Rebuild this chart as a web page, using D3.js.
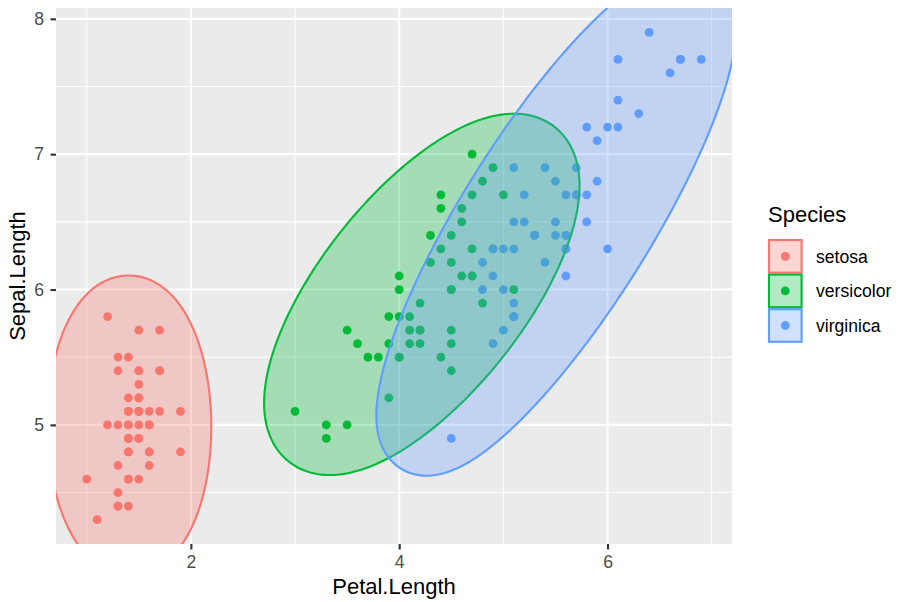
<!DOCTYPE html>
<html>
<head>
<meta charset="utf-8">
<script src="https://cdn.jsdelivr.net/npm/d3@7"></script>
<style>
  body { margin: 0; background: #fff; }
  svg { display: block; font-family: "Liberation Sans", Arial, sans-serif; }
</style>
</head>
<body>
<svg id="chart" width="906" height="602"></svg>
<script>
// ---- data (iris) ---------------------------------------------------------
var species = ["setosa", "versicolor", "virginica"];
var speciesColors = ["#F8766D", "#00BA38", "#619CFF"];

var setosaPetal = [1.4,1.4,1.3,1.5,1.4,1.7,1.4,1.5,1.4,1.5,1.5,1.6,1.4,1.1,1.2,1.5,1.3,1.4,1.7,1.5,
                   1.7,1.5,1.0,1.7,1.9,1.6,1.6,1.5,1.4,1.6,1.6,1.5,1.5,1.4,1.5,1.2,1.3,1.4,1.3,1.5,
                   1.3,1.3,1.3,1.6,1.9,1.4,1.6,1.4,1.5,1.4];
var setosaSepal = [5.1,4.9,4.7,4.6,5.0,5.4,4.6,5.0,4.4,4.9,5.4,4.8,4.8,4.3,5.8,5.7,5.4,5.1,5.7,5.1,
                   5.4,5.1,4.6,5.1,4.8,5.0,5.0,5.2,5.2,4.7,4.8,5.4,5.2,5.5,4.9,5.0,5.5,4.9,4.4,5.1,
                   5.0,4.5,4.4,5.0,5.1,4.8,5.1,4.6,5.3,5.0];
var versicolorPetal = [4.7,4.5,4.9,4.0,4.6,4.5,4.7,3.3,4.6,3.9,3.5,4.2,4.0,4.7,3.6,4.4,4.5,4.1,4.5,3.9,
                       4.8,4.0,4.9,4.7,4.3,4.4,4.8,5.0,4.5,3.5,3.8,3.7,3.9,5.1,4.5,4.5,4.7,4.4,4.1,4.0,
                       4.4,4.6,4.0,3.3,4.2,4.2,4.2,4.3,3.0,4.1];
var versicolorSepal = [7.0,6.4,6.9,5.5,6.5,5.7,6.3,4.9,6.6,5.2,5.0,5.9,6.0,6.1,5.6,6.7,5.6,5.8,6.2,5.6,
                       5.9,6.1,6.3,6.1,6.4,6.6,6.8,6.7,6.0,5.7,5.5,5.5,5.8,6.0,5.4,6.0,6.7,6.3,5.6,5.5,
                       5.5,6.1,5.8,5.0,5.6,5.7,5.7,6.2,5.1,5.7];
var virginicaPetal = [6.0,5.1,5.9,5.6,5.8,6.6,4.5,6.3,5.8,6.1,5.1,5.3,5.5,5.0,5.1,5.3,5.5,6.7,6.9,5.0,
                      5.7,4.9,6.7,4.9,5.7,6.0,4.8,4.9,5.6,5.8,6.1,6.4,5.6,5.1,5.6,6.1,5.6,5.5,4.8,5.4,
                      5.6,5.1,5.1,5.9,5.7,5.2,5.0,5.2,5.4,5.1];
var virginicaSepal = [6.3,5.8,7.1,6.3,6.5,7.6,4.9,7.3,6.7,7.2,6.5,6.4,6.8,5.7,5.8,6.4,6.5,7.7,7.7,6.0,
                      6.9,5.6,7.7,6.3,6.7,7.2,6.2,6.1,6.4,7.2,7.4,7.9,6.4,6.3,6.1,7.7,6.3,6.4,6.0,6.9,
                      6.7,6.9,5.8,6.8,6.7,6.7,6.3,6.5,6.2,5.9];

var xTicks = [2, 4, 6];
var xMinor = [1, 3, 5, 7];
var yTicks = [5, 6, 7, 8];
var yMinor = [4.5, 5.5, 6.5, 7.5];

var petalBySpecies = [setosaPetal, versicolorPetal, virginicaPetal];
var sepalBySpecies = [setosaSepal, versicolorSepal, virginicaSepal];

// ---- layout --------------------------------------------------------------
var panel = { left: 56, right: 732, top: 8, bottom: 544 };
var expandPx = 30.5;   // mark expansion around the enclosing ellipse
var svg = d3.select("#chart");

var allPetal = [].concat(setosaPetal, versicolorPetal, virginicaPetal);
var allSepal = [].concat(setosaSepal, versicolorSepal, virginicaSepal);

function expanded(ext) {
    var pad = (ext[1] - ext[0]) * 0.05;
    return [ext[0] - pad, ext[1] + pad];
}

var x = d3.scaleLinear().domain(expanded(d3.extent(allPetal))).range([panel.left, panel.right]);
var y = d3.scaleLinear().domain(expanded(d3.extent(allSepal))).range([panel.bottom, panel.top]);

var rows = [];
species.forEach(function(s, k) {
    petalBySpecies[k].forEach(function(p, i) {
        rows.push({ species: s, k: k, petal: p, sepal: sepalBySpecies[k][i] });
    });
});

// ---- panel ---------------------------------------------------------------
svg.append("defs").append("clipPath").attr("id", "panelClip")
    .append("rect")
    .attr("x", panel.left).attr("y", panel.top)
    .attr("width", panel.right - panel.left).attr("height", panel.bottom - panel.top);

svg.append("rect")
    .attr("x", panel.left).attr("y", panel.top)
    .attr("width", panel.right - panel.left).attr("height", panel.bottom - panel.top)
    .attr("fill", "#EBEBEB");

var grid = svg.append("g").attr("clip-path", "url(#panelClip)");
grid.selectAll(".xminor").data(xMinor).enter().append("line")
    .attr("x1", d => x(d)).attr("x2", d => x(d))
    .attr("y1", panel.top).attr("y2", panel.bottom)
    .attr("stroke", "#fff").attr("stroke-width", 1.07);
grid.selectAll(".yminor").data(yMinor).enter().append("line")
    .attr("y1", d => y(d)).attr("y2", d => y(d))
    .attr("x1", panel.left).attr("x2", panel.right)
    .attr("stroke", "#fff").attr("stroke-width", 1.07);
grid.selectAll(".xmajor").data(xTicks).enter().append("line")
    .attr("x1", d => x(d)).attr("x2", d => x(d))
    .attr("y1", panel.top).attr("y2", panel.bottom)
    .attr("stroke", "#fff").attr("stroke-width", 2.13);
grid.selectAll(".ymajor").data(yTicks).enter().append("line")
    .attr("y1", d => y(d)).attr("y2", d => y(d))
    .attr("x1", panel.left).attr("x2", panel.right)
    .attr("stroke", "#fff").attr("stroke-width", 2.13);

// ---- points ----------------------------------------------------------------
var plot = svg.append("g").attr("clip-path", "url(#panelClip)");
plot.selectAll("circle.pt").data(rows).enter().append("circle")
    .attr("class", "pt")
    .attr("cx", d => x(d.petal))
    .attr("cy", d => y(d.sepal))
    .attr("r", 4.4)
    .attr("fill", d => speciesColors[d.k]);

// ---- enclosing ellipses (Khachiyan, in pixel space, then expanded) ---------
function inv3(m) {
    var a = m[0][0], b = m[0][1], c = m[0][2],
        d = m[1][0], e = m[1][1], f = m[1][2],
        g = m[2][0], h = m[2][1], i = m[2][2];
    var A = e * i - f * h, B = -(d * i - f * g), C = d * h - e * g;
    var det = a * A + b * B + c * C;
    return [
        [A / det, -(b * i - c * h) / det, (b * f - c * e) / det],
        [B / det, (a * i - c * g) / det, -(a * f - c * d) / det],
        [C / det, -(a * h - b * g) / det, (a * e - b * d) / det]
    ];
}

function enclosingEllipse(pts, tol) {
    var n = pts.length, dim = 2;
    var mx = d3.mean(pts, p => p[0]), my = d3.mean(pts, p => p[1]);
    var P = pts.map(p => [p[0] - mx, p[1] - my]);
    var u = P.map(() => 1 / n);
    var err = 1, iter = 0;
    while (err > tol && iter < 20000) {
        var X = [[0, 0, 0], [0, 0, 0], [0, 0, 0]];
        P.forEach(function(p, k) {
            var q = [p[0], p[1], 1];
            for (var r = 0; r < 3; r++)
                for (var c = 0; c < 3; c++) X[r][c] += u[k] * q[r] * q[c];
        });
        var Xi = inv3(X);
        var maxM = -Infinity, j = 0;
        P.forEach(function(p, k) {
            var q = [p[0], p[1], 1], m = 0;
            for (var r = 0; r < 3; r++)
                for (var c = 0; c < 3; c++) m += q[r] * Xi[r][c] * q[c];
            if (m > maxM) { maxM = m; j = k; }
        });
        var step = (maxM - dim - 1) / ((dim + 1) * (maxM - 1));
        var nu = u.map(v => v * (1 - step));
        nu[j] += step;
        err = Math.sqrt(d3.sum(nu, (v, k) => (v - u[k]) * (v - u[k])));
        u = nu;
        iter++;
    }
    var cx = d3.sum(P, (p, k) => u[k] * p[0]);
    var cy = d3.sum(P, (p, k) => u[k] * p[1]);
    var sxx = d3.sum(P, (p, k) => u[k] * p[0] * p[0]) - cx * cx;
    var syy = d3.sum(P, (p, k) => u[k] * p[1] * p[1]) - cy * cy;
    var sxy = d3.sum(P, (p, k) => u[k] * p[0] * p[1]) - cx * cy;
    // shape = dim * S ; A = inverse(shape)
    var s11 = dim * sxx, s22 = dim * syy, s12 = dim * sxy;
    var det = s11 * s22 - s12 * s12;
    return {
        cx: cx + mx, cy: cy + my,
        L: [[Math.sqrt(s11), 0], [s12 / Math.sqrt(s11), Math.sqrt(s22 - s12 * s12 / s11)]],
        A: [[s22 / det, -s12 / det], [-s12 / det, s11 / det]]
    };
}

function markPath(el, e, nseg) {
    var out = [];
    for (var i = 0; i < nseg; i++) {
        var t = 2 * Math.PI * i / nseg, ct = Math.cos(t), st = Math.sin(t);
        var dx = el.L[0][0] * ct + el.L[0][1] * st;
        var dy = el.L[1][0] * ct + el.L[1][1] * st;
        var gx = el.A[0][0] * dx + el.A[0][1] * dy;
        var gy = el.A[1][0] * dx + el.A[1][1] * dy;
        var gl = Math.sqrt(gx * gx + gy * gy);
        out.push([el.cx + dx + e * gx / gl, el.cy + dy + e * gy / gl]);
    }
    return out;
}

var ellipseLine = d3.line().curve(d3.curveLinearClosed);

species.forEach(function(s, k) {
    var pts = petalBySpecies[k].map((p, i) => [x(p), y(sepalBySpecies[k][i])]);
    var el = enclosingEllipse(pts, 0.01);
    plot.append("path")
        .attr("d", ellipseLine(markPath(el, expandPx, 240)))
        .attr("fill", speciesColors[k])
        .attr("fill-opacity", 0.3)
        .attr("stroke", speciesColors[k])
        .attr("stroke-width", 2.13);
});

// ---- axes ------------------------------------------------------------------
var xAxis = svg.append("g")
    .attr("transform", "translate(0," + panel.bottom + ")")
    .call(d3.axisBottom(x).tickValues(xTicks).tickFormat(d3.format("d"))
        .tickSize(5.5).tickSizeOuter(0).tickPadding(6.5));
var yAxis = svg.append("g")
    .attr("transform", "translate(" + panel.left + ",0)")
    .call(d3.axisLeft(y).tickValues(yTicks).tickFormat(d3.format("d"))
        .tickSize(5.5).tickSizeOuter(0).tickPadding(6.5));
[xAxis, yAxis].forEach(function(a) {
    a.select(".domain").remove();
    a.selectAll(".tick line").attr("stroke", "#333333").attr("stroke-width", 2.13);
    a.selectAll(".tick text").attr("fill", "#4D4D4D")
        .style("font-size", "17.6px")
        .style("font-family", "'Liberation Sans', Arial, sans-serif");
});

svg.append("text")
    .attr("x", (panel.left + panel.right) / 2).attr("y", 594)
    .attr("text-anchor", "middle")
    .style("font-size", "22px")
    .text("Petal.Length");

svg.append("text")
    .attr("transform", "translate(25," + ((panel.top + panel.bottom) / 2) + ") rotate(-90)")
    .attr("text-anchor", "middle")
    .style("font-size", "22px")
    .text("Sepal.Length");

// ---- legend ----------------------------------------------------------------
var legend = svg.append("g").attr("transform", "translate(768,0)");
legend.append("text")
    .attr("x", 0).attr("y", 222)
    .style("font-size", "22px")
    .text("Species");

var keySize = 34.6, keyTop = 239;
var keys = legend.selectAll("g.key").data(species).enter().append("g")
    .attr("class", "key")
    .attr("transform", (d, i) => "translate(0," + (keyTop + i * keySize) + ")");
keys.append("rect")
    .attr("x", 1).attr("y", 1)
    .attr("width", keySize - 2).attr("height", keySize - 2)
    .attr("fill", (d, i) => speciesColors[i])
    .attr("fill-opacity", 0.3)
    .attr("stroke", (d, i) => speciesColors[i])
    .attr("stroke-width", 2.13);
keys.append("circle")
    .attr("cx", keySize / 2).attr("cy", keySize / 2)
    .attr("r", 4.4)
    .attr("fill", (d, i) => speciesColors[i]);
keys.append("text")
    .attr("x", 48).attr("y", keySize / 2 + 6.2)
    .style("font-size", "17.6px")
    .text(d => d);
</script>
</body>
</html>
